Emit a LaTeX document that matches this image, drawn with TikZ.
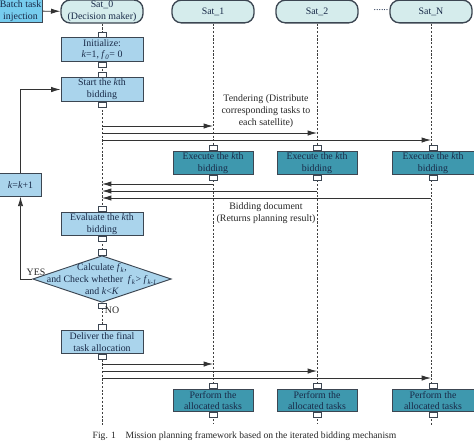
\documentclass[tikz,border=0pt]{standalone}
\usepackage{fontspec}
\setmainfont{Liberation Serif}
\usetikzlibrary{arrows.meta,shapes.geometric}

\definecolor{headfill}{RGB}{213,236,236}
\definecolor{lightbox}{RGB}{170,212,236}
\definecolor{tealbox}{RGB}{62,152,174}
\definecolor{batchfill}{RGB}{118,204,238}
\definecolor{boxline}{RGB}{60,70,82}
\definecolor{textnavy}{RGB}{25,42,72}

\newcommand{\fsub}[1]{\textit{f}\textsubscript{\textit{#1}}}

\begin{document}
\begin{tikzpicture}[x=0.75pt,y=-0.75pt,
  every node/.style={font=\fontsize{7.4}{8.8}\selectfont, text=textnavy},
  head/.style={draw=boxline, line width=1pt, fill=headfill, rounded corners=7pt, minimum width=61.5pt, minimum height=17pt, inner sep=1pt, align=center},
  act/.style={draw=boxline, line width=0.7pt, fill=lightbox, minimum width=61.5pt, minimum height=17pt, inner sep=1pt, align=center},
  job/.style={act, fill=tealbox, minimum width=60pt},
  tab/.style={draw=boxline, line width=0.5pt, fill=white, minimum width=6pt, minimum height=3.8pt, inner sep=0pt},
  life/.style={draw=black!75, line width=0.6pt, dash pattern=on 1.6pt off 1.2pt},
  msg/.style={draw=black!80, line width=0.6pt, -{Latex[length=7pt,width=4pt]}},
  note/.style={text=black!85, align=center}
]
        \useasboundingbox (0,0) rectangle (474,440);

        % satellites
        \node[act, fill=batchfill, minimum width=31pt, minimum height=16.5pt] (batch) at (20.5,11) {Batch task\\injection};
        \node[head] (s0) at (102,11.5) {Sat\_0\\(Decision maker)};
        \node[head] (s1) at (213,11.5) {Sat\_1};
        \node[head] (s2) at (317,11.5) {Sat\_2};
        \node[head] (sN) at (431,11.5) {Sat\_N};
        \node (dots) at (381,10) {......};

        \draw[life] (s0.south) -- (s0 |- 0,425);
        \draw[life] (s1.south) -- (s1 |- 0,424);
        \draw[life] (s2.south) -- (s2 |- 0,424);
        \draw[life] (sN.south) -- (sN |- 0,425);

        % decision maker
        \node[act] (init) at (102,49.5) {Initialize:\\\textit{k}=1, \fsub{0}= 0};
        \node[act] (start) at (102,89.5) {Start the \textit{k}th\\bidding};
        \node[act] (eval) at (102,224) {Evaluate the \textit{k}th\\bidding};
        \node[diamond, draw=boxline, line width=0.7pt, fill=lightbox, minimum width=104pt, minimum height=35pt, inner sep=0pt] (check) at (102,279) {};
        \node[align=center] (checktext) at (check.center) {Calculate \fsub{k},\\and Check whether\ \ \fsub{k}> \fsub{k-1}\\and \textit{k}<\textit{K}};
        \node[act] (deliver) at (102,342) {Deliver the final\\task allocation};
        \node[act, minimum width=31pt] (kinc) at (20.5,185) {\textit{k}=\textit{k}+1};

        % satellites work
        \node[job] (exec1) at (213,163) {Execute the \textit{k}th\\bidding};
        \node[job] (exec2) at (317,163) {Execute the \textit{k}th\\bidding};
        \node[job, minimum width=61.5pt] (execN) at (433,163) {Execute the \textit{k}th\\bidding};
        \node[job] (perf1) at (213,400.5) {Perform the\\allocated tasks};
        \node[job] (perf2) at (317,400.5) {Perform the\\allocated tasks};
        \node[job, minimum width=61.5pt] (perfN) at (433,400.5) {Perform the\\allocated tasks};

        \foreach \b in {init,start,eval,check,deliver,exec1,exec2,execN,perf1,perf2,perfN}{
          \node[tab, anchor=south] at (\b.north) {};
          \node[tab, anchor=north] at (\b.south) {};
        }

        % messages
        \draw[msg] (batch) -- (s0);
        \draw[msg] (kinc.north) |- (start.west);
        \draw[msg] (check.west) -| (kinc.south);
        \node[note] (yes) at (36,272) {YES};
        \node[note] (no) at (112,310) {NO};

        \draw[msg] (s0 |- 0,126) -- (s1 |- 0,126);
        \draw[msg] (s0 |- 0,133) -- (s2 |- 0,133);
        \draw[msg] (s0 |- 0,140) -- (sN |- 0,140);
        \node[note] (tender) at (266,111) {Tendering (Distribute\\corresponding tasks to\\each satellite)};

        \draw[msg] (s1 |- 0,184) -- (s0 |- 0,184);
        \draw[msg] (s2 |- 0,191) -- (s0 |- 0,191);
        \draw[msg] (sN |- 0,198) -- (s0 |- 0,198);
        \node[note] (bid) at (266,213) {Bidding document\\(Returns planning result)};

        \draw[msg] (s0 |- 0,364) -- (s1 |- 0,364);
        \draw[msg] (s0 |- 0,371) -- (s2 |- 0,371);
        \draw[msg] (s0 |- 0,378) -- (sN |- 0,378);

        \node[note, anchor=west, font=\fontsize{7.2}{8.6}\selectfont] (caption) at (88,436) {Fig. 1\quad Mission planning framework based on the iterated bidding mechanism};
\end{tikzpicture}
\end{document}
